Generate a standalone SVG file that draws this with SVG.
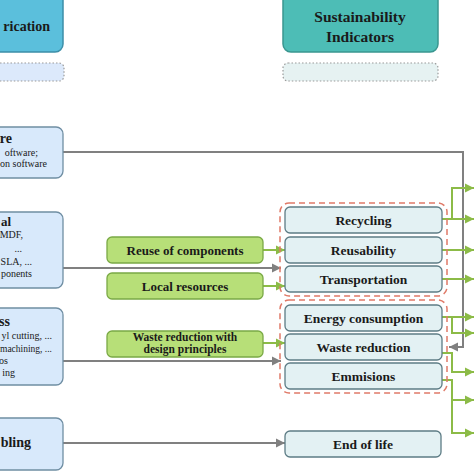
<svg xmlns="http://www.w3.org/2000/svg" width="474" height="474" viewBox="0 0 474 474">
<defs>
<style>
.t{font-family:"Liberation Serif","DejaVu Serif",serif;fill:#1a1a1a}
.h{font-size:15.5px;font-weight:bold;text-anchor:middle}
.lb{font-size:14px;font-weight:bold;text-anchor:end}
.ls{font-size:10px;text-anchor:end}
.ind{font-size:13.5px;font-weight:bold;text-anchor:middle}
.gt{font-size:13px;font-weight:bold;text-anchor:middle}
.leftnode{fill:#d8e9fb;stroke:#6f8ea3;stroke-width:1.3}
.green{fill:#b7df78;stroke:#7aa945;stroke-width:1.3}
.indbox{fill:#e3f1f3;stroke:#5d7c85;stroke-width:1.3}
.grp{fill:none;stroke:#e07a68;stroke-width:1.5;stroke-dasharray:6 4}
.gl{fill:none;stroke:#808080;stroke-width:2}
.gr{fill:none;stroke:#8cbb47;stroke-width:2}
</style>
<marker id="ag" markerUnits="userSpaceOnUse" markerWidth="10" markerHeight="10" refX="9" refY="5" orient="auto"><path d="M0,0.5 L9,5 L0,9.5 z" fill="#808080"/></marker>
<marker id="an" markerUnits="userSpaceOnUse" markerWidth="10" markerHeight="10" refX="9" refY="5" orient="auto"><path d="M0,0.5 L9,5 L0,9.5 z" fill="#8cbb47"/></marker>
</defs>
<rect width="474" height="474" fill="#ffffff"/>

<g id="hdr-fabrication">
<rect x="-12" y="-8" width="75" height="60" rx="8" fill="#5bbfdc" stroke="#3d8fa8" stroke-width="1.5"/>
<text class="t lb" x="50" y="31" style="font-size:14px">rication</text>
</g>
<g id="hdr-fab-dotted">
<rect x="-12" y="63" width="76" height="18" rx="5" fill="#dce9fb" stroke="#999" stroke-width="1.2" stroke-dasharray="1.5 2"/>
</g>
<g id="hdr-sustainability">
<rect x="283" y="-8" width="155" height="60" rx="8" fill="#4dbdb6" stroke="#3a9690" stroke-width="1.5"/>
<text class="t h" x="360" y="22">Sustainability</text>
<text class="t h" x="360" y="42">Indicators</text>
</g>
<g id="hdr-sus-dotted">
<rect x="283" y="63" width="155" height="18" rx="5" fill="#e6f2f2" stroke="#999" stroke-width="1.2" stroke-dasharray="1.5 2"/>
</g>

<g id="connectors">
<path class="gl" d="M63,152 H463 V347 H449" marker-end="url(#ag)"/>
<path class="gl" d="M63,268 H281" marker-end="url(#ag)"/>
<path class="gl" d="M63,361 H281" marker-end="url(#ag)"/>
<path class="gl" d="M63,443 H285" marker-end="url(#ag)"/>
<path class="gr" d="M263,250 H285" marker-end="url(#an)"/>
<path class="gr" d="M263,286 H285" marker-end="url(#an)"/>
<path class="gr" d="M263,343 H285" marker-end="url(#an)"/>
<path class="gr" d="M442,219 H474" marker-end="url(#an)"/>
<path class="gr" d="M452,219 V188 H474" marker-end="url(#an)"/>
<path class="gr" d="M442,250 H474" marker-end="url(#an)"/>
<path class="gr" d="M442,279 H474" marker-end="url(#an)"/>
<path class="gr" d="M442,317 H474" marker-end="url(#an)"/>
<path class="gr" d="M452,317 V333 H474" marker-end="url(#an)"/>
<path class="gr" d="M442,353 H452 V372 H474" marker-end="url(#an)"/>
<path class="gr" d="M442,380 H452 V433 H474" marker-end="url(#an)"/>
<path class="gr" d="M452,400 H474" marker-end="url(#an)"/>
</g>

<g id="node-software">
<rect class="leftnode" x="-12" y="127" width="75" height="51" rx="7"/>
<text class="t lb" x="12" y="143">re</text>
<text class="t ls" x="38" y="156">oftware;</text>
<text class="t ls" x="47" y="167">on software</text>
</g>
<g id="node-material">
<rect class="leftnode" x="-12" y="212" width="75" height="76" rx="7"/>
<text class="t lb" x="11" y="226" style="font-size:13px">al</text>
<text class="t ls" x="23" y="238">MDF,</text>
<text class="t ls" x="22" y="252">...</text>
<text class="t ls" x="32" y="265">SLA, ...</text>
<text class="t ls" x="32" y="277">ponents</text>
</g>
<g id="node-process">
<rect class="leftnode" x="-12" y="308" width="75" height="77" rx="7"/>
<text class="t lb" x="10" y="326">ss</text>
<text class="t ls" x="52" y="339">yl cutting, ...</text>
<text class="t ls" x="52" y="352" style="font-size:9.5px">machining, ...</text>
<text class="t ls" x="8" y="364">os</text>
<text class="t ls" x="15" y="376">ing</text>
</g>
<g id="node-assembling">
<rect class="leftnode" x="-12" y="418" width="75" height="52" rx="7"/>
<text class="t lb" x="31" y="447">bling</text>
</g>

<g id="node-reuse-components">
<rect class="green" x="107" y="237" width="156" height="26" rx="5"/>
<text class="t gt" x="185" y="254.5">Reuse of components</text>
</g>
<g id="node-local-resources">
<rect class="green" x="107" y="273" width="156" height="26" rx="5"/>
<text class="t gt" x="185" y="290.5">Local resources</text>
</g>
<g id="node-waste-design">
<rect class="green" x="107" y="331" width="156" height="26" rx="5"/>
<text class="t gt" x="185" y="341" style="font-size:11.5px">Waste reduction with</text>
<text class="t gt" x="185" y="353" style="font-size:11.5px">design principles</text>
</g>

<g id="group-1">
<rect class="grp" x="280" y="203" width="167" height="93" rx="9"/>
</g>
<g id="group-2">
<rect class="grp" x="280" y="300" width="167" height="93" rx="9"/>
</g>

<g id="node-recycling">
<rect class="indbox" x="285" y="207" width="157" height="26" rx="5"/>
<text class="t ind" x="363.5" y="224.5">Recycling</text>
</g>
<g id="node-reusability">
<rect class="indbox" x="285" y="237" width="157" height="26" rx="5"/>
<text class="t ind" x="363.5" y="254.5">Reusability</text>
</g>
<g id="node-transportation">
<rect class="indbox" x="285" y="266" width="157" height="26" rx="5"/>
<text class="t ind" x="363.5" y="283.5">Transportation</text>
</g>
<g id="node-energy">
<rect class="indbox" x="285" y="305" width="157" height="26" rx="5"/>
<text class="t ind" x="363.5" y="322.5">Energy consumption</text>
</g>
<g id="node-waste-reduction">
<rect class="indbox" x="285" y="334" width="157" height="26" rx="5"/>
<text class="t ind" x="363.5" y="351.5">Waste reduction</text>
</g>
<g id="node-emmisions">
<rect class="indbox" x="285" y="363" width="157" height="26" rx="5"/>
<text class="t ind" x="363.5" y="380.5">Emmisions</text>
</g>
<g id="node-end-of-life">
<rect class="indbox" x="285" y="431" width="156" height="26" rx="5"/>
<text class="t ind" x="363" y="448.5">End of life</text>
</g>
</svg>
